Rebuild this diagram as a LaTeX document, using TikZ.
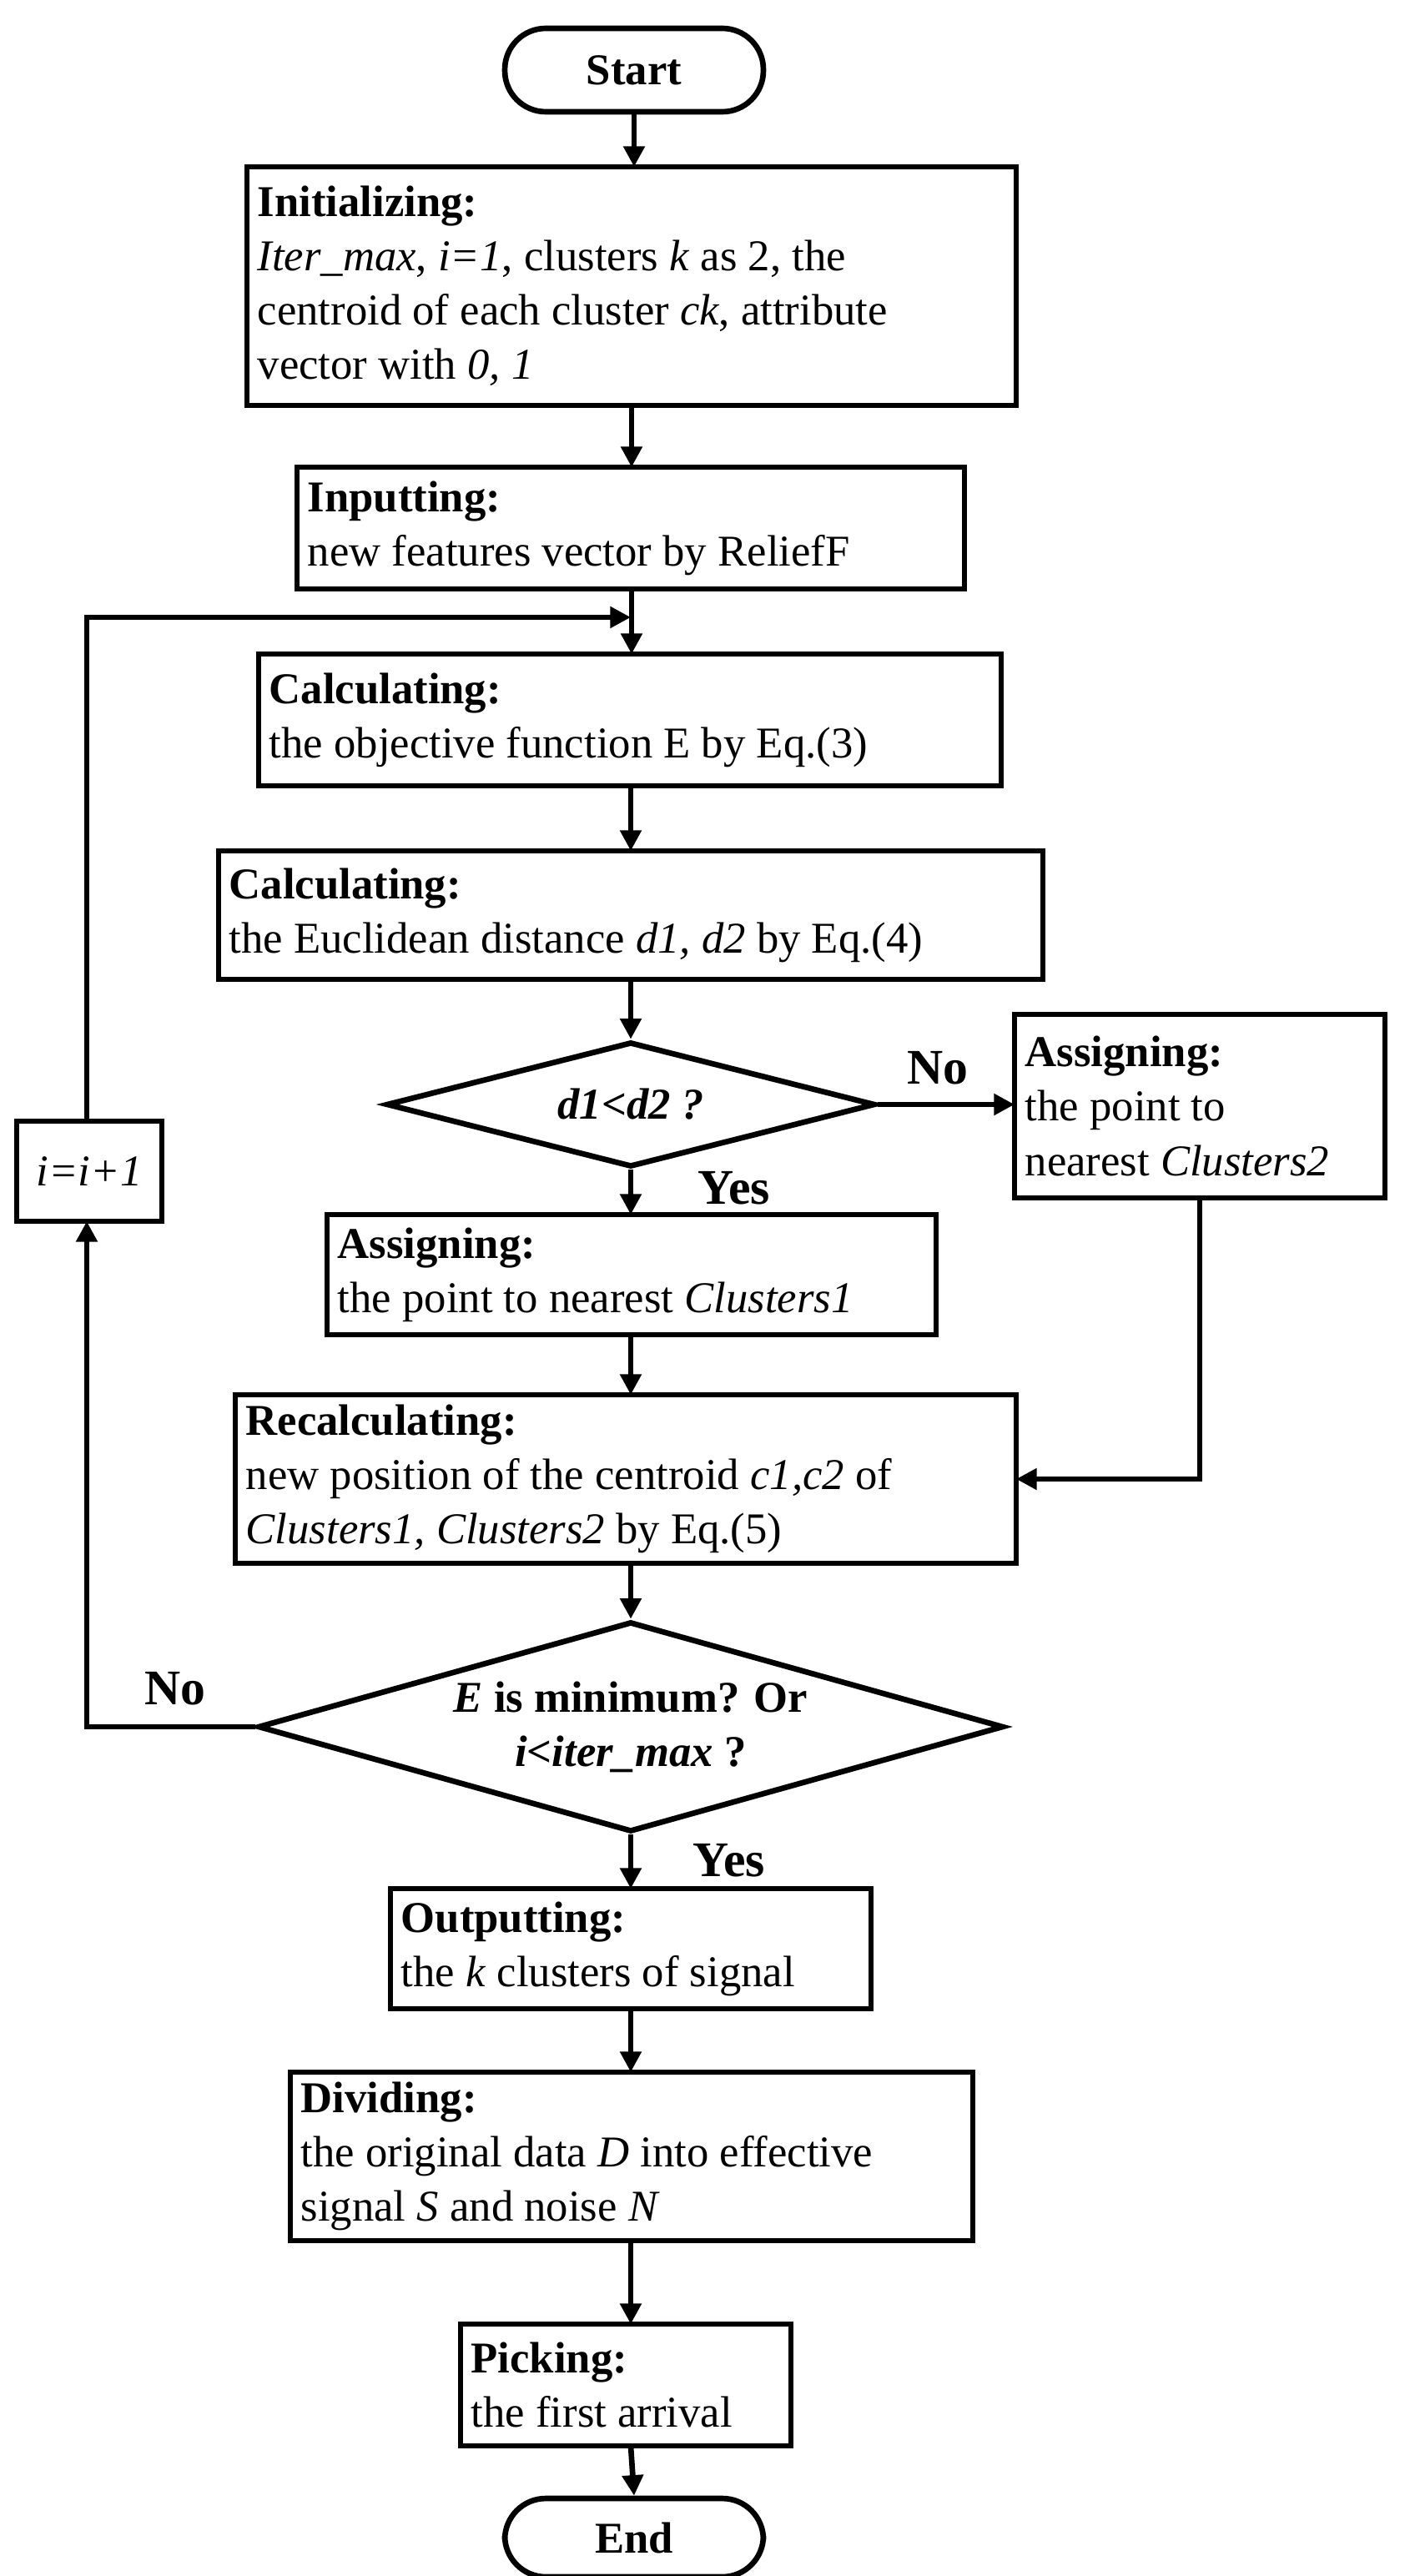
\documentclass[tikz,border=0pt]{standalone}
\usepackage{fontspec}
\setmainfont{Liberation Serif}
\usetikzlibrary{arrows.meta,shapes.geometric}
\begin{document}
\begin{tikzpicture}[x=0.02cm,y=-0.02cm,
  every node/.style={font=\fontsize{15}{18.5}\selectfont},
  ln/.style={line width=1.9pt},
  arr/.style={ln,-{Triangle[length=7pt,width=7pt]}},
  lbl/.style={font=\fontsize{17}{20}\selectfont\bfseries}]
\useasboundingbox (0,0) rectangle (851,1544);
\newcommand{\mybox}[6]{% name,x1,y1,x2,y2,text
  \draw[ln] (#2,#3) rectangle (#4,#5);
  \node[anchor=west,align=left,inner sep=0pt] at (#2+6,{(#3+#5)/2}) {#6};
  \coordinate (#1n) at ({(#2+#4)/2},#3);
  \coordinate (#1s) at ({(#2+#4)/2},#5);
  \coordinate (#1w) at (#2,{(#3+#5)/2});
  \coordinate (#1e) at (#4,{(#3+#5)/2});}
\node[draw,ln,rounded corners=14pt,minimum width=3.1cm,minimum height=1cm,font=\fontsize{15}{18.5}\selectfont\bfseries] (start) at (380,42) {Start};
\mybox{ini}{148}{100}{609}{243}{\textbf{Initializing:}\\\textit{Iter\_max}, \textit{i=1}, clusters \textit{k} as 2, the\\centroid of each cluster \textit{ck}, attribute\\vector with \textit{0, 1}}
\mybox{inp}{178}{280}{578}{353}{\textbf{Inputting:}\\new features vector by ReliefF}
\mybox{ca1}{155}{392}{600}{471}{\textbf{Calculating:}\\the objective function E by Eq.(3)}
\mybox{ca2}{131}{510}{625}{587}{\textbf{Calculating:}\\the Euclidean distance \textit{d1, d2} by Eq.(4)}
\node[draw,ln,diamond,aspect=3.9,minimum width=5.86cm,minimum height=1.5cm,inner sep=0pt,font=\fontsize{15}{18.5}\selectfont\bfseries\itshape] (d1) at (378,662) {d1<d2 ?};
\mybox{as2}{608}{608}{830}{718}{\textbf{Assigning:}\\the point to\\nearest \textit{Clusters2}}
\mybox{as1}{196}{728}{561}{800}{\textbf{Assigning:}\\the point to nearest \textit{Clusters1}}
\mybox{rec}{141}{836}{609}{937}{\textbf{Recalculating:}\\new position of the centroid \textit{c1,c2} of\\\textit{Clusters1, Clusters2} by Eq.(5)}
\node[draw,ln,diamond,aspect=3.55,minimum width=8.94cm,minimum height=2.52cm,inner sep=0pt,align=center,font=\fontsize{15}{18.5}\selectfont\bfseries] (d2) at (378,1035) {\textit{E} is minimum? Or\\\textit{i<iter\_max} ?};
\draw[ln] (10,672) rectangle (97,732);
\node at (53.5,702) {\textit{i=i+1}};
\coordinate (itn) at (52,672); \coordinate (its) at (52,732);
\mybox{out}{234}{1132}{522}{1204}{\textbf{Outputting:}\\the \textit{k} clusters of signal}
\mybox{div}{174}{1242}{583}{1343}{\textbf{Dividing:}\\the original data \textit{D} into effective\\signal \textit{S} and noise \textit{N}}
\mybox{pic}{276}{1393}{474}{1466}{\textbf{Picking:}\\the first arrival}
\node[draw,ln,rounded corners=14pt,minimum width=3.1cm,minimum height=0.94cm,font=\fontsize{15}{18.5}\selectfont\bfseries] (end) at (380,1521) {End};
\draw[arr] (start.south) -- (start.south|-inin);
\draw[arr] (inis) -- (inis|-inpn);
\draw[arr] (inis|-inps) -- (inis|-ca1n);
\draw[arr] (378,471) -- (378,510);
\draw[arr] (378,587) -- (d1.north);
\draw[arr] (d1.south) -- (378,728);
\draw[arr] (d1.east) -- (as2w|-d1.east);
\draw[arr] (378,800) -- (378,836);
\draw[arr] (as2s) -- (as2s|-rece) -- (rece);
\draw[arr] (378,937) -- (d2.north);
\draw[arr] (d2.south) -- (378,1132);
\draw[arr] (d2.west) -- (52,1035) -- (its);
\draw[arr] (itn) -- (52,370) -- (378,370);
\draw[arr] (378,1204) -- (378,1242);
\draw[arr] (378,1343) -- (378,1393);
\draw[arr] (378,1466) -- (end.north);
\node[lbl] at (562,640) {No};
\node[lbl] at (440,712) {Yes};
\node[lbl] at (105,1012) {No};
\node[lbl] at (437,1115) {Yes};
\end{tikzpicture}
\end{document}
